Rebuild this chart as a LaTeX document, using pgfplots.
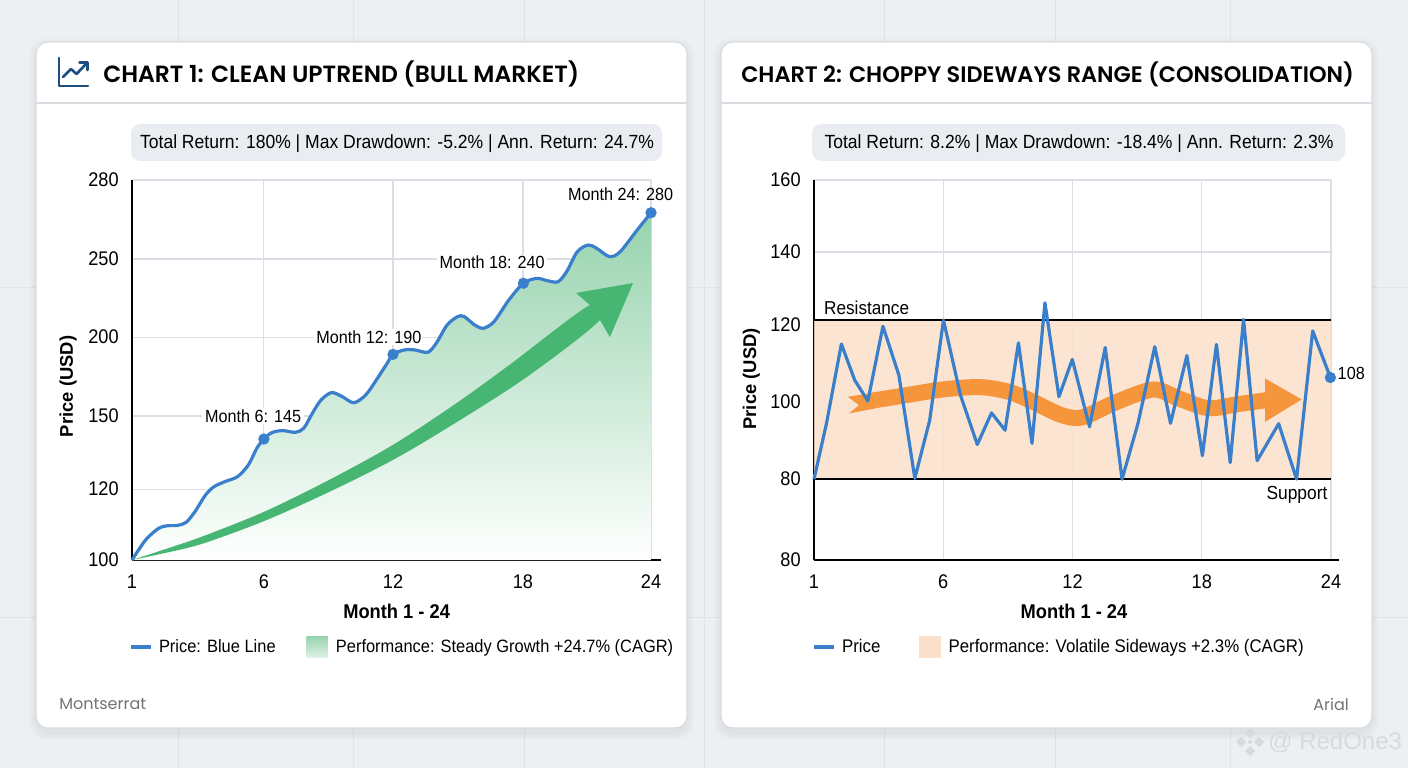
\documentclass[border=0pt]{standalone}
\usepackage{fontspec}
\usepackage{pgfplots}
\usepackage{pgfplotstable}
\pgfplotsset{compat=1.18}
\setmainfont{Liberation Sans}[FakeStretch=0.92]
\newfontfamily\titlefont{Poppins SemiBold}
\newfontfamily\footfont{Poppins}
\newfontfamily\labfont{Liberation Sans}
\newcommand{\fs}[1]{\fontsize{#1}{#1}\selectfont}

\definecolor{pagebg}{HTML}{EDF0F3}
\definecolor{bgline}{HTML}{E0E3E7}
\definecolor{cardline}{HTML}{D8DBE0}
\definecolor{pill}{HTML}{E9ECF1}
\definecolor{gridc}{HTML}{DBDEE4}
\definecolor{priceblue}{HTML}{3A7FCC}
\definecolor{navy}{HTML}{1C4F80}
\definecolor{arrowgreen}{HTML}{48B673}
\definecolor{areagreen}{HTML}{96D3AD}
\definecolor{bandorange}{HTML}{FBE1CB}
\definecolor{arroworange}{HTML}{F5963C}

% left chart: x = month position (label 1 sits at 0), y = nominal height on a 100-280 scale
\pgfplotstableread{
x y
0 100
0.63 109.5
1.23 115
1.62 116.2
2.11 116.4
2.51 117.9
2.91 122.9
3.40 130.8
3.79 134.7
4.29 137.1
4.88 139.5
5.38 145
5.77 152.9
6.10 157.3
6.46 160.3
6.96 161.3
7.55 160.5
7.94 162.4
8.34 169.5
8.74 175.8
9.23 179.3
9.72 177.4
10.26 174.5
10.81 178.2
11.30 185.3
11.80 193.2
12.07 197.4
12.59 199.5
13.08 199.5
13.68 198.4
14.07 202.7
14.57 211.3
15.06 215.3
15.36 215.3
15.85 211.3
16.25 209.8
16.74 212.9
17.43 223.2
18.10 231.1
18.72 233.4
19.21 232.3
19.70 231.8
20.10 236.6
20.59 246
21.09 249.2
21.48 247.7
22.08 243.7
22.57 246
23.36 256.3
24 264.5
}\bulltable

% right chart
\pgfplotstableread{
x y
0 80
0.58 94.5
1.27 115.1
1.89 105.7
2.50 100.3
3.20 119.7
3.94 107
4.68 80.2
5.37 95.3
6.01 121.3
6.80 101.8
7.58 89
8.24 97.2
8.87 92.7
9.49 115.4
10.12 89.3
10.72 125.8
11.37 101.4
11.99 111.1
12.79 93.6
13.52 114.2
14.30 80
15.04 94.5
15.82 114.4
16.55 94.5
17.31 112.1
18.03 86.1
18.68 115
19.32 84.3
19.94 121.5
20.57 84.8
21.57 94.4
22.40 80
23.15 118.5
23.97 106.4
}\rangetable

\pgfplotsset{
  card axis/.style={
    scale only axis,
    height=285pt,
    xmin=0, xmax=24,
    axis x line*=bottom, axis y line*=left,
    axis line style={-, black, line width=1.2pt},
    grid=major,
    grid style={gridc, line width=0.85pt},
    major tick length=0pt,
    clip=false,
    tick label style={font=\fs{14.8}},
    xticklabel style={yshift=-7.5pt},
    yticklabel style={xshift=-6.5pt},
    legend style={draw=none, fill=none, inner xsep=0pt, inner sep=0pt,
      anchor=west, legend columns=2,
      /tikz/every even column/.style={column sep=3pt}},
    legend cell align=left,
  },
  line key/.style={legend image code/.code={
    \draw[priceblue, line width=2.4pt] (0pt,0pt) -- (15pt,0pt);}},
}

\begin{document}
\begin{tikzpicture}[x=0.75pt,y=0.75pt]
\useasboundingbox (0,0) rectangle (1408,768);
\clip (0,0) rectangle (1408,768);
\begin{scope}[shift={(0,768)},y=-0.75pt]
\fill[pagebg] (0,0) rectangle (1408,768);
\foreach \v in {178,353,524,704,884,1055,1230}
  \draw[bgline, line width=0.6pt] (\v,0) -- (\v,768);
\foreach \h in {287,617}
  \draw[bgline, line width=0.6pt] (0,\h) -- (1408,\h);

% cards with a soft shadow
\foreach \cx in {36,721}{
  \foreach \s in {1,...,7}
    \fill[black, opacity=0.008, rounded corners=12pt]
      (\cx-\s,42+3-\s) rectangle (\cx+651+\s,728+5+\s);
  \fill[white, draw=cardline, line width=0.8pt, rounded corners=9pt]
    (\cx,42) rectangle (\cx+651,728);
  \draw[cardline, line width=0.8pt] (\cx,103) -- (\cx+651,103);
}

% header icon
\draw[navy, line width=2pt, line cap=round, line join=round] (59,58) -- (59,86) -- (88,86);
\draw[navy, line width=2pt, line cap=round, line join=round]
  (63,77) -- (71,69) -- (76.5,74) -- (86,64);
\draw[navy, line width=2pt, line cap=round, line join=round]
  (79.5,62.5) -- (87.5,62.5) -- (87.5,70);

% titles and stat pills
\node[anchor=west, inner sep=0pt, font=\titlefont\fs{17.6}] at (103,74)
  {CHART 1: CLEAN UPTREND (BULL MARKET)};
\node[anchor=west, inner sep=0pt, font=\titlefont\fs{16.8}] at (741,74)
  {CHART 2: CHOPPY SIDEWAYS RANGE (CONSOLIDATION)};
\fill[pill, rounded corners=7pt] (131,124) rectangle (662,161);
\fill[pill, rounded corners=7pt] (812,124) rectangle (1345,161);
\node[inner sep=0pt, font=\fs{14.3}] at (397,144)
  {Total Return: 180\% | Max Drawdown: -5.2\% | Ann. Return: 24.7\%};
\node[inner sep=0pt, font=\fs{14.3}] at (1079,144)
  {Total Return: 8.2\% | Max Drawdown: -18.4\% | Ann. Return: 2.3\%};

% footers and watermark
\node[anchor=west, inner sep=0pt, text=black!55, font=\footfont\fs{12}] at (59,704) {Montserrat};
\node[anchor=east, inner sep=0pt, text=black!55, font=\footfont\fs{12}] at (1349,704) {Arial};
\node[anchor=west, inner sep=0pt, text=black!15, font=\labfont\fs{18}] at (1268,742) {@ RedOne3};
\foreach \a/\b/\r in {1250/733/5,1241/742/5,1259/742/5,1250/751/5,1250/742/2.5}
  \fill[black!15] (\a,\b-\r) -- (\a+\r,\b) -- (\a,\b+\r) -- (\a-\r,\b) -- cycle;
\end{scope}

% chart 1
\begin{axis}[card axis,
  at={(99pt,156pt)}, anchor=south west,
  width=389.25pt,
  ymin=100, ymax=280,
  xtick={0,6.1,12.07,18.08,24},
  xticklabels={1,6,12,18,24},
  ytick={100,133.6,168.2,205.6,242.6,280},
  yticklabels={100,120,150,200,250,280},
  xlabel={\bfseries\fs{14.9} Month 1 - 24},
  xlabel style={at={(axis description cs:0.505,-0.134)}, anchor=center},
  ylabel={\labfont\bfseries\fs{13.8} Price (USD)},
  ylabel style={at={(axis description cs:-0.123,0.45)}, anchor=center},
  legend style={at={(axis description cs:-0.006,-0.229)}, font=\fs{13.4}},
]
\addplot[forget plot, draw=none, smooth, top color=areagreen, bottom color=white]
  table[x=x,y=y] {\bulltable} \closedcycle;
% tapered arrow body, then its head
\addplot[forget plot, fill=arrowgreen, draw=none, smooth] coordinates {
  (0,100) (1.20,104.0) (3.19,110.9) (6.10,122.8) (9.11,137.9) (12.11,154.8)
  (15.02,174.4) (17.4,192) (21.18,220.8) (21.64,213.7) (18.3,187)
  (15.03,165.4) (12.12,147.7) (9.11,132.2) (6.10,118.4) (3.19,107.5) (1.2,102.6) (0,100)};
\addplot[forget plot, fill=arrowgreen, draw=none] coordinates {
  (20.53,226.5) (23.17,231.2) (22.10,205.6) (21.64,213.7) (21.18,220.8)} --cycle;
\addplot[forget plot, priceblue, line width=2.4pt, smooth] table[x=x,y=y] {\bulltable};
\addplot[forget plot, only marks, mark=*, mark size=4pt, priceblue] coordinates {
  (6.10,157.3) (12.07,197.4) (18.10,231.1) (24,264.5)};
\draw[black, line width=1.2pt] (axis cs:24,100) -- (axis cs:24.46,100);

\node[fill=white, inner xsep=2pt, inner ysep=1pt, font=\fs{13.2}] at (axis cs:5.6,168.2) {Month 6: 145};
\node[fill=white, inner xsep=2pt, inner ysep=1pt, font=\fs{13.2}] at (axis cs:10.95,205.6) {Month 12: 190};
\node[fill=white, inner xsep=2pt, inner ysep=1pt, font=\fs{13.2}] at (axis cs:16.65,241) {Month 18: 240};
\node[inner sep=0pt, font=\fs{13.2}] at (axis cs:22.6,273.4) {Month 24: 280};

\addlegendimage{line key}
\addlegendentry{\hspace{3pt}Price: Blue Line\rule{18.2pt}{0pt}}
\addlegendimage{legend image code/.code={
  \shade[draw=none, top color=areagreen, bottom color=areagreen!30] (0pt,-8pt) rectangle (16pt,8pt);}}
\addlegendentry{\hspace{4pt}Performance: Steady Growth +24.7\% (CAGR)}
\end{axis}

% chart 2
\begin{axis}[card axis,
  at={(610.5pt,156pt)}, anchor=south west,
  width=387.75pt,
  ymin=59, ymax=157.7,
  xtick={0,6,12,18,24},
  xticklabels={1,6,12,18,24},
  ytick={59,80,100,120,139,157.7},
  yticklabels={80,80,100,120,140,160},
  xlabel={\bfseries\fs{14.9} Month 1 - 24},
  xlabel style={at={(axis description cs:0.498,-0.134)}, anchor=center},
  ylabel={\labfont\bfseries\fs{13.8} Price (USD)},
  ylabel style={at={(axis description cs:-0.121,0.47)}, anchor=center},
  legend style={at={(axis description cs:-0.004,-0.229)}, font=\fs{13.7}},
]
\addplot[forget plot, fill=bandorange, fill opacity=0.85, draw=none]
  coordinates {(0,80) (24,80) (24,121.3) (0,121.3)} --cycle;
\addplot[forget plot, black, line width=1.5pt] coordinates {(0,121.3) (24,121.3)};
\addplot[forget plot, black, line width=1.5pt] coordinates {(0,80) (24,80)};
% wavy arrow: tail, thick body, head
\addplot[forget plot, fill=arroworange, draw=none] coordinates {
  (1.57,101.39) (2.84,102.51) (2.84,98.36) (1.62,97.06) (2.09,99.22)} --cycle;
\addplot[forget plot, arroworange, line width=12pt, smooth] coordinates {
  (2.74,100.43) (4.01,101.56) (5.97,103.29) (7.73,103.9) (9.10,102.6) (10.27,99.83)
  (11.45,96.71) (12.43,96.02) (13.99,99.92) (15.75,103.29) (16.93,100.95)
  (18.30,98.44) (19.67,99.48) (21.23,100.69)};
\addplot[forget plot, fill=arroworange, draw=none] coordinates {
  (20.94,106.15) (22.64,100.69) (20.94,94.89)} --cycle;
\addplot[forget plot, priceblue, line width=2.4pt, line join=round] table[x=x,y=y] {\rangetable};
\addplot[forget plot, only marks, mark=*, mark size=4pt, priceblue] coordinates {(23.97,106.4)};
\draw[black, line width=1.2pt] (axis cs:24,59) -- (axis cs:24.37,59);

\node[anchor=west, inner sep=0pt, font=\fs{14}] at (axis cs:0.46,124.6) {Resistance};
\node[anchor=east, inner sep=0pt, font=\fs{14.2}] at (axis cs:23.85,76.0) {Support};
\node[anchor=west, inner sep=0pt, font=\fs{13.2}] at (axis cs:24.3,107.4) {108};

\addlegendimage{line key}
\addlegendentry{\hspace{3pt}Price\rule{24.2pt}{0pt}}
\addlegendimage{legend image code/.code={
  \fill[draw=none, bandorange] (0pt,-8pt) rectangle (16pt,8pt);}}
\addlegendentry{\hspace{4pt}Performance: Volatile Sideways +2.3\% (CAGR)}
\end{axis}
\end{tikzpicture}
\end{document}
